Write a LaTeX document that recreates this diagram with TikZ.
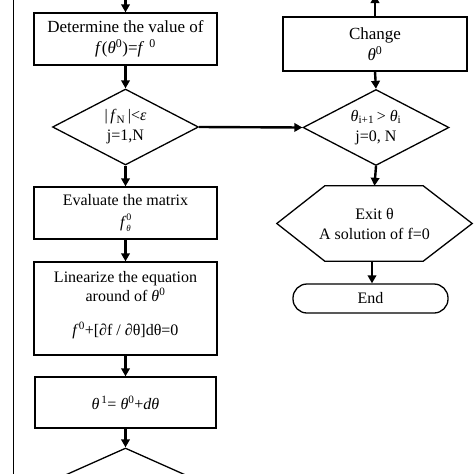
\documentclass[tikz,border=0pt]{standalone}
\usepackage{fontspec}
\setmainfont{Liberation Serif}
\usetikzlibrary{shapes.geometric,arrows.meta,calc}
\newcommand\ith{\textit{θ}}
\begin{document}
\begin{tikzpicture}[x=1pt,y=-1pt,
  every node/.style={font=\fontsize{16}{20}\selectfont, align=center, inner sep=0pt},
  big/.style={font=\fontsize{17}{20}\selectfont},
  boxx/.style={draw, line width=1.3pt, rectangle},
  dia/.style={draw, line width=1.3pt, diamond, minimum width=146pt, minimum height=76pt, shape aspect=1.92},
  arr/.style={line width=2.4pt, -{Triangle[length=8pt,width=8.5pt]}},
  thin/.style={line width=1.3pt}]
\useasboundingbox (0,0) rectangle (474,474);
\clip (0,0) rectangle (474,474);
\fill[white] (0,0) rectangle (474,474);
% left column
\coordinate (ltop) at (125.5,-2);
\node[boxx, big, minimum width=183pt, minimum height=52pt] (b1) at (125.5,39)
  {Determine the value of\\[1pt] \textit{f}(\ith\textsuperscript{0})=\textit{f}\hspace{5pt}\textsuperscript{0}};
\node[dia] (d1) at (125.5,127)
  {|\,\textit{f}\textsubscript{N}\,|<\textit{ε}\\ j=1,N};
\node[boxx, minimum width=183pt, minimum height=52pt] (b3) at (125.5,213)
  {Evaluate the matrix\\[2pt] \textit{f}\makebox[0pt][l]{\raisebox{7.5pt}{\fontsize{10}{10}\selectfont 0}}\raisebox{-4pt}{\fontsize{9}{9}\selectfont\textit{θ}}};
\node[boxx, minimum width=183pt, minimum height=93pt] (b4) at (125.5,308.5) {};
\node (t4) at (125.5,305) {Linearize the equation\\[-1pt] around of \ith\textsuperscript{0}\\[14pt] \textit{f}\textsuperscript{0}+[∂f / ∂θ]dθ=0};
\node[boxx, minimum width=181pt, minimum height=51pt] (b5) at (125.5,402.5)
  {\ith\textsuperscript{\,1}= \ith\textsuperscript{0}+\textit{dθ}};
\node[draw, line width=1.3pt, diamond, minimum width=170pt, minimum height=76pt, shape aspect=2.24] (d3) at (125.5,486) {};
% right column
\coordinate (rtop) at (375,-5);
\node[boxx, big, minimum width=184pt, minimum height=54pt] (b2) at (375,44)
  {Change\\[1pt] \ith\textsuperscript{0}};
\node[dia] (d2) at (376,127.5)
  {\ith\textsubscript{i+1}\,> \ith\textsubscript{i}\\ j=0, N};
\node[minimum width=195pt, minimum height=75pt] (hx) at (374.5,223.5)
  {Exit θ\\ A solution of f=0};
\draw[thin] (hx.west) -- ($(hx.north west)+(48,0)$) -- ($(hx.north east)+(-49,0)$)
  -- (hx.east) -- ($(hx.south east)+(-49,0)$) -- ($(hx.south west)+(48,0)$) -- cycle;
\node[draw, line width=1.3pt, rounded corners=14pt, minimum width=155pt, minimum height=29pt] (en) at (370.5,298.5) {End};
\coordinate (hxb) at (372,261);
% left return line
\coordinate (lt) at (13.5,-2);
\coordinate (lb) at (13.5,476);
\draw[thin] (lt) -- (lb);
% arrows
\draw[arr] (ltop) -- (b1.north);
\draw[arr] (b1.south) -- (d1.north);
\draw[arr] (d1.south) -- (b3.north);
\draw[arr] (b3.south) -- (b4.north);
\draw[arr] (b4.south) -- (b5.north);
\draw[arr] (b5.south) -- (d3.north);
\draw[arr] (d1.east) -- (d2.west);
\draw[arr] (b2.north) -- (rtop);
\draw[arr] (b2.south) -- (d2.north);
\draw[arr] (d2.south) -- (hx.north);
\draw[arr] (hxb) -- (hxb |- en.north);
\end{tikzpicture}
\end{document}
